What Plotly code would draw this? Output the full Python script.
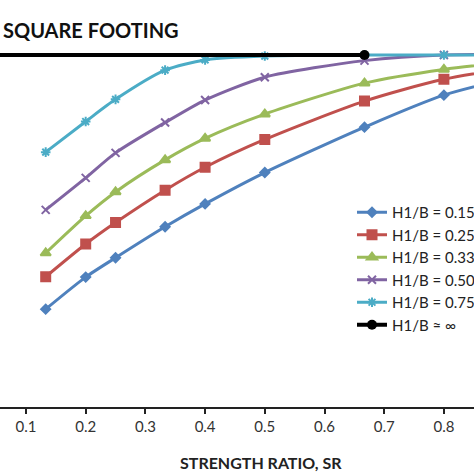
import plotly.graph_objects as go

# Data
sr = [0.133, 0.2, 0.25, 0.333, 0.4, 0.5, 0.667, 0.8, 1.0]
h015 = [0.278, 0.369, 0.424, 0.512, 0.577, 0.666, 0.795, 0.886, 0.970]
h025 = [0.370, 0.463, 0.524, 0.616, 0.681, 0.760, 0.869, 0.931, 0.985]
h033 = [0.4375, 0.543, 0.611, 0.702, 0.763, 0.832, 0.920, 0.959, 0.995]
h050 = [0.560, 0.651, 0.722, 0.808, 0.872, 0.937, 0.984, 1.0, 1.0]
h075 = [0.724, 0.811, 0.874, 0.957, 0.986, 0.997, 1.0, 1.0, 1.0]
sr_inf = [0.0, 0.667]
h_inf = [1.0, 1.0]

names = ["H1/B = 0.15", "H1/B = 0.25", "H1/B = 0.33", "H1/B = 0.50", "H1/B = 0.75", "H1/B ≈ ∞"]
tick_vals = [0.1, 0.2, 0.3, 0.4, 0.5, 0.6, 0.7, 0.8]

FONT = "Lato"
fig = go.Figure()

styles = [
    (h015, "#4F81BD", "diamond", 7),
    (h025, "#C0504D", "square", 9),
    (h033, "#9BBB59", "triangle-up", 9),
    (h050, "#8064A2", "x-thin-open", 8),
    (h075, "#4BACC6", "asterisk-open", 8),
]
for (ys, col, sym, sz), nm in zip(styles, names[:5]):
    fig.add_trace(go.Scatter(
        x=sr, y=ys, name=nm, mode="lines+markers",
        line=dict(color=col, width=3, shape="spline", smoothing=0.7),
        marker=dict(symbol=sym, size=sz, color=col, line=dict(color=col, width=2)),
    ))

fig.add_trace(go.Scatter(
    x=sr_inf, y=h_inf, name=names[5], mode="lines+markers",
    line=dict(color="black", width=4),
    marker=dict(symbol="circle", size=10, color="black"),
))

fig.update_layout(
    width=474, height=474,
    margin=dict(l=0, r=0, t=0, b=67, autoexpand=False),
    paper_bgcolor="white", plot_bgcolor="white",
    font=dict(family=FONT, size=15, color="#404040"),
    showlegend=True,
    legend=dict(x=352/474, y=1 - 196/407, xanchor="left", yanchor="top",
                bgcolor="rgba(0,0,0,0)", font=dict(family=FONT, size=15, color="#222")),
    xaxis=dict(range=[0.1 - 26/597, 0.1 + 448/597], tickvals=tick_vals,
               ticktext=[f"{v:.1f}" for v in tick_vals],
               showline=True, linecolor="#222", linewidth=2,
               ticks="outside", ticklen=5, tickwidth=1.5, tickcolor="#222",
               showgrid=False, zeroline=False, tickfont=dict(size=15, color="#333")),
    yaxis=dict(range=[0, 407/352], visible=False, showgrid=False, zeroline=False),
    annotations=[
        dict(text="<b>STRENGTH RATIO, SR</b>", x=261/474, y=-55/407, xref="paper", yref="paper",
             xanchor="center", yanchor="middle", showarrow=False,
             font=dict(family=FONT, size=16, color="#222")),
        dict(text="<b>SQUARE FOOTING</b>", x=1/474, y=1 - 30/407, xref="paper", yref="paper",
             xanchor="left", yanchor="middle", showarrow=False,
             font=dict(family=FONT, size=20, color="#111")),
    ],
)

fig.write_html("out.html")
